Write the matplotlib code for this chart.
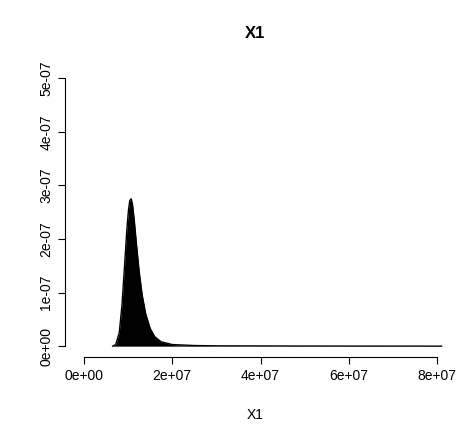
import matplotlib
matplotlib.use("Agg")
import matplotlib.pyplot as plt
import numpy as np

plt.rcParams['font.family'] = ['Liberation Sans', 'DejaVu Sans']

x_vals = np.array([0.65, 0.72, 0.8, 0.86, 0.92, 0.97, 1.01, 1.04, 1.07, 1.1, 1.14, 1.19, 1.25, 1.32, 1.4, 1.5, 1.6, 1.75, 2.0, 2.5, 3.0, 5.0, 8.1]) * 1e7
dens = np.array([0.0, 0.03, 0.25, 0.75, 1.5, 2.15, 2.55, 2.72, 2.75, 2.65, 2.35, 1.9, 1.4, 0.95, 0.6, 0.33, 0.18, 0.08, 0.03, 0.012, 0.006, 0.002, 0.0]) * 1e-7
xticks = [0, 2e7, 4e7, 6e7, 8e7]
xtick_labels = ["0e+00", "2e+07", "4e+07", "6e+07", "8e+07"]
yticks = [0, 1e-7, 2e-7, 3e-7, 4e-7, 5e-7]
ytick_labels = ["0e+00", "1e-07", "2e-07", "3e-07", "4e-07", "5e-07"]

fig = plt.figure(figsize=(4.74, 4.42), dpi=100)
ax = fig.add_axes([0.137, 0.192, 0.802, 0.654])
ax.fill_between(x_vals, dens, 0, color='black', lw=0)
ax.plot(x_vals, dens, color='black', lw=1)
ax.set_xlim(-4.3e6, 8.18e7)
ax.set_ylim(-2.05e-8, 5.19e-7)
for s in ['top', 'right']:
    ax.spines[s].set_visible(False)
ax.spines['left'].set_bounds(0, 5e-7)
ax.spines['bottom'].set_bounds(0, 8e7)
ax.set_xticks(xticks, xtick_labels, fontsize=10)
ax.set_yticks(yticks, ytick_labels, fontsize=10, rotation=90, va='center')
ax.tick_params(length=5)
ax.set_title("X1", fontweight='bold', fontsize=12, pad=22)
ax.set_xlabel("X1", fontsize=10, labelpad=18)
fig.savefig("out.png", dpi=100)
